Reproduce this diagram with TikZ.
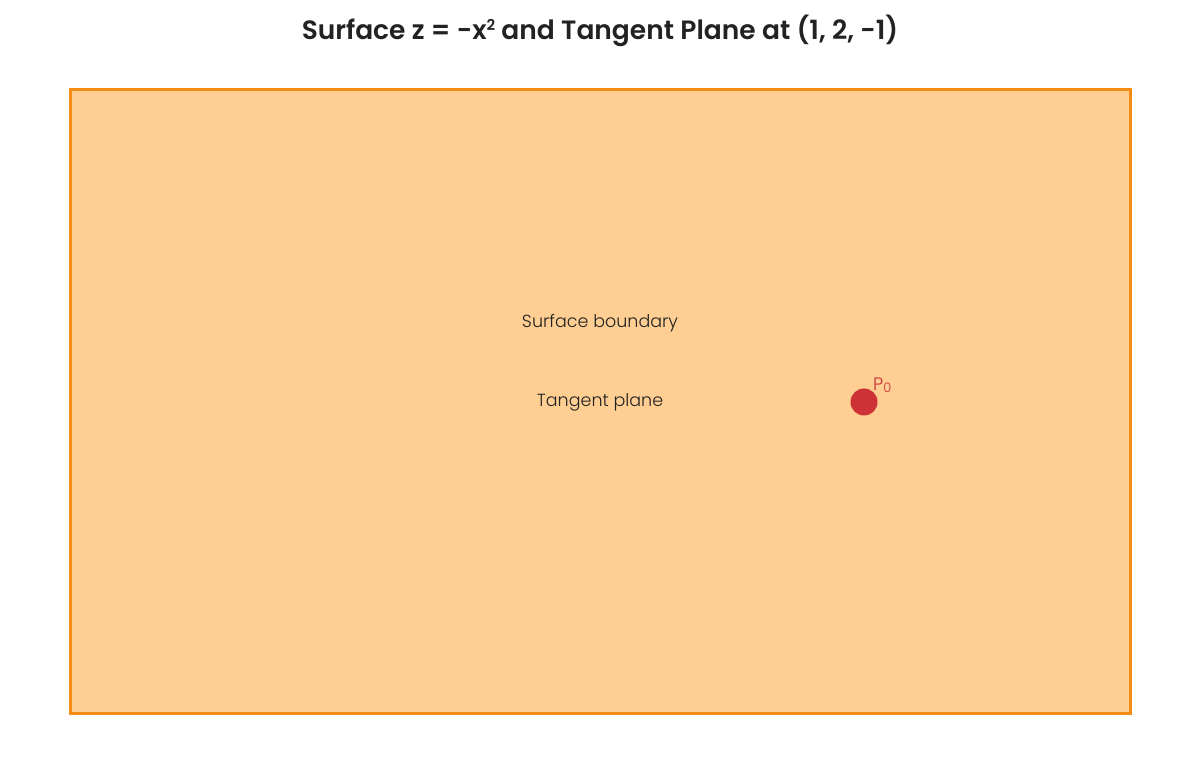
\documentclass[tikz,border=0pt]{standalone}
\usepackage{fontspec}
\setmainfont{Poppins}
\definecolor{boxfill}{HTML}{FECE92}
\definecolor{boxedge}{HTML}{F58D14}
\definecolor{dotred}{HTML}{CC3236}
\definecolor{txt}{HTML}{222222}
\begin{document}
\begin{tikzpicture}[x=1pt,y=1pt,
  lbl/.style={font=\fontsize{17.5}{20}\selectfont\fontspec{Poppins Light}, text=txt, inner sep=0pt},
  ttl/.style={font=\fontsize{26.5}{30}\selectfont\fontspec{Poppins SemiBold}, text=txt, inner sep=0pt}]
\useasboundingbox[fill=white] (0,0) rectangle (1200,763);
\node[ttl] (title) at (600,732) {Surface z = -x\raisebox{9pt}{\fontsize{15}{16}\selectfont 2} and Tangent Plane at (1, 2, -1)};
\draw[boxedge, line width=3pt, fill=boxfill] (70,673) rectangle (1130,49);
\node[lbl] (surf) at (600,440) {Surface boundary};
\node[lbl] (tan) at (600,361) {Tangent plane};
\node[circle, fill=dotred, minimum size=27pt, inner sep=0pt] (p0) at (864,361) {};
\node[font=\fontsize{18}{20}\selectfont\fontspec{Poppins Light}, text=dotred, inner sep=0pt, anchor=south west] (p0lbl) at (873,370) {P\raisebox{-2.5pt}{\fontsize{13}{14}\selectfont 0}};
\end{tikzpicture}
\end{document}
